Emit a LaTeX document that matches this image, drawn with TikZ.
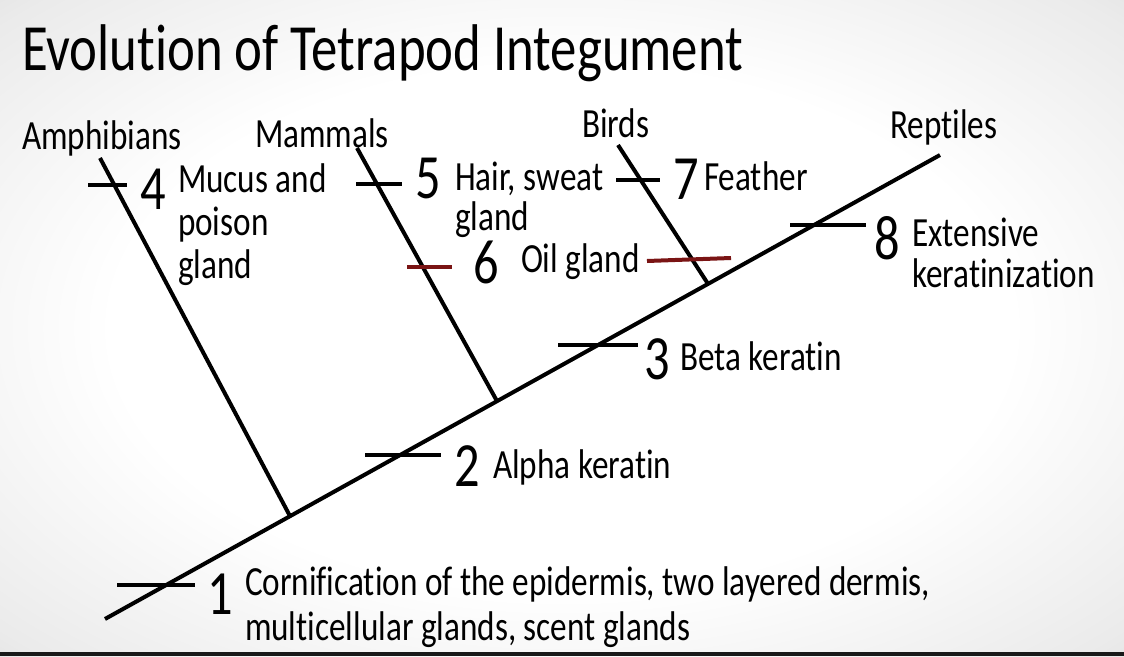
\documentclass[tikz,border=0pt]{standalone}
\usepackage{fontspec}
\setmainfont[FakeStretch=0.8, Ligatures={NoCommon}]{Carlito}
\usetikzlibrary{calc}
\definecolor{oilred}{HTML}{7A1414}
\pgfdeclareradialshading{vig}{\pgfpoint{0bp}{0bp}}{color(0bp)=(white); color(20bp)=(white); color(34bp)=(black!8); color(50bp)=(black!24); color(71bp)=(black!46)}
\begin{document}
\begin{tikzpicture}[x=1pt,y=-1pt,
  br/.style={line width=4pt, line cap=butt},
  tick/.style={line width=4pt},
  redtick/.style={line width=4pt, draw=oilred},
  lbl/.style={anchor=base west, inner sep=0pt, outer sep=0pt, align=left, font=\fontsize{41.5}{43}\selectfont},
  num/.style={anchor=base west, inner sep=0pt, outer sep=0pt, font=\fontsize{63}{63}\selectfont},
  ttl/.style={anchor=base west, inner sep=0pt, outer sep=0pt, font=\fontsize{66}{66}\selectfont}]
\useasboundingbox (0,0) rectangle (1124,656);
\shade[shading=vig] (0,0) rectangle (1124,656);
\fill[black!90] (0,652) rectangle (1124,656);

% title
\node[ttl] (title) at (22,70) {Evolution of Tetrapod Integument};

% taxa
\node[lbl] (amph) at (22,149) {Amphibians};
\node[lbl] (mamm) at (255,147) {Mammals};
\node[lbl] (bird) at (582,137) {Birds};
\node[lbl] (rept) at (890,138) {Reptiles};

% main line and branches
\coordinate (root) at (105,619);
\coordinate (tipR) at (940,155);
\coordinate (J1) at ($(root)!0.2216!(tipR)$);
\coordinate (J2) at ($(root)!0.4695!(tipR)$);
\coordinate (J3) at ($(root)!0.7222!(tipR)$);
\coordinate (tipA) at (100,158);
\coordinate (tipM) at (357,148);
\coordinate (tipB) at (618,145);
\draw[br] (root) -- (tipR);
\draw[br] (J1) -- (tipA);
\draw[br] (J2) -- (tipM);
\draw[br] (J3) -- (tipB);

% ticks
\coordinate (t1a) at (117,585); \coordinate (t1b) at (195,585);
\coordinate (t2a) at (365,455); \coordinate (t2b) at (441,455);
\coordinate (t3a) at (558,345); \coordinate (t3b) at (638,345);
\coordinate (t8a) at (790,225); \coordinate (t8b) at (866,225);
\coordinate (t4a) at (88,185);  \coordinate (t4b) at (127,185);
\coordinate (t5a) at (356,184); \coordinate (t5b) at (402,184);
\coordinate (t7a) at (616,180); \coordinate (t7b) at (660,180);
\coordinate (t6a) at (407,267); \coordinate (t6b) at (452,267);
\coordinate (oila) at (647,261); \coordinate (oilb) at (731,258);
\draw[tick] (t1a) -- (t1b);
\draw[tick] (t2a) -- (t2b);
\draw[tick] (t3a) -- (t3b);
\draw[tick] (t8a) -- (t8b);
\draw[tick] (t4a) -- (t4b);
\draw[tick] (t5a) -- (t5b);
\draw[tick] (t7a) -- (t7b);
\draw[redtick] (t6a) -- (t6b);
\draw[redtick] (oila) -- (oilb);

% numbers
\node[num] (n1) at (207,614) {1};
\node[num] (n2) at (454,486) {2};
\node[num] (n3) at (644,379) {3};
\node[num] (n4) at (140,209) {4};
\node[num] (n5) at (415,198) {5};
\node[num] (n6) at (473,283) {6};
\node[num] (n7) at (673,199) {7};
\node[num] (n8) at (874,259) {8};

% characters (base anchor = baseline of last line)
\node[lbl] (c1) at (245,640) {Cornification of the epidermis, two layered dermis,\\[2pt]multicellular glands, scent glands};
\node[lbl] (c2) at (493,478) {Alpha keratin};
\node[lbl] (c3) at (680,370) {Beta keratin};
\node[lbl] (c4) at (178,278) {Mucus and\\poison\\gland};
\node[lbl] (c5) at (455,230) {Hair, sweat\\[-3pt]gland};
\node[lbl] (c6) at (521,272) {Oil gland};
\node[lbl] (c7) at (704,190) {Feather};
\node[lbl] (c8) at (912,287) {Extensive\\[-2pt]keratinization};
\end{tikzpicture}
\end{document}
